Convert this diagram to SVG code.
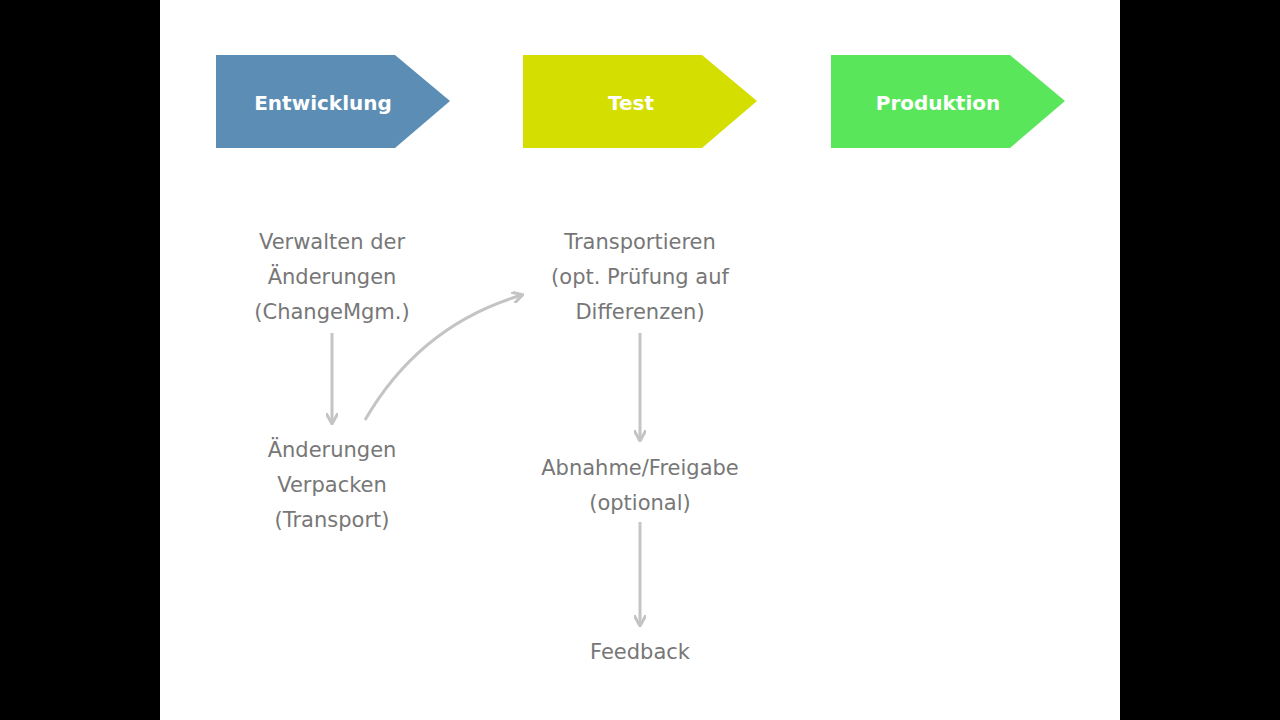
<svg xmlns="http://www.w3.org/2000/svg" width="1280" height="720" viewBox="0 0 1280 720">
<defs>
<style>
.h{font-family:"DejaVu Sans",sans-serif;font-weight:bold;font-size:20px;fill:#fff;text-anchor:middle}
.t{font-family:"DejaVu Sans",sans-serif;font-size:21px;fill:#777;text-anchor:middle}
.c{fill:none;stroke:#c4c4c4;stroke-width:3}
</style>
<marker id="a" markerWidth="12" markerHeight="12" refX="10" refY="6" orient="auto" markerUnits="userSpaceOnUse"><path d="M0,0 L11,6 L0,12" fill="none" stroke="#c4c4c4" stroke-width="3"/></marker>
</defs>
<rect width="1280" height="720" fill="#000"/>
<rect x="160" y="0" width="960" height="720" fill="#fff"/>
<g id="entwicklung"><polygon points="216,55 395,55 450,101 395,148 216,148" fill="#5b8db5"/><text class="h" x="323" y="110">Entwicklung</text></g>
<g id="test"><polygon points="523,55 702,55 757,101 702,148 523,148" fill="#d4de00"/><text class="h" x="631" y="110">Test</text></g>
<g id="produktion"><polygon points="831,55 1010,55 1065,101 1010,148 831,148" fill="#5ae65a"/><text class="h" x="938" y="110">Produktion</text></g>
<g id="n1"><text class="t" x="332" y="249">Verwalten der</text><text class="t" x="332" y="284">Änderungen</text><text class="t" x="332" y="319">(ChangeMgm.)</text></g>
<g id="n2"><text class="t" x="332" y="457">Änderungen</text><text class="t" x="332" y="492">Verpacken</text><text class="t" x="332" y="527">(Transport)</text></g>
<g id="n3"><text class="t" x="640" y="249">Transportieren</text><text class="t" x="640" y="284">(opt. Prüfung auf</text><text class="t" x="640" y="319">Differenzen)</text></g>
<g id="n4"><text class="t" x="640" y="475">Abnahme/Freigabe</text><text class="t" x="640" y="510">(optional)</text></g>
<g id="n5"><text class="t" x="640" y="659">Feedback</text></g>
<g id="connectors">
<path class="c" d="M332,333 L332,423" marker-end="url(#a)"/>
<path class="c" d="M365,420 Q420,325 522,295" marker-end="url(#a)"/>
<path class="c" d="M640,333 L640,440" marker-end="url(#a)"/>
<path class="c" d="M640,522 L640,625" marker-end="url(#a)"/>
</g>
</svg>
